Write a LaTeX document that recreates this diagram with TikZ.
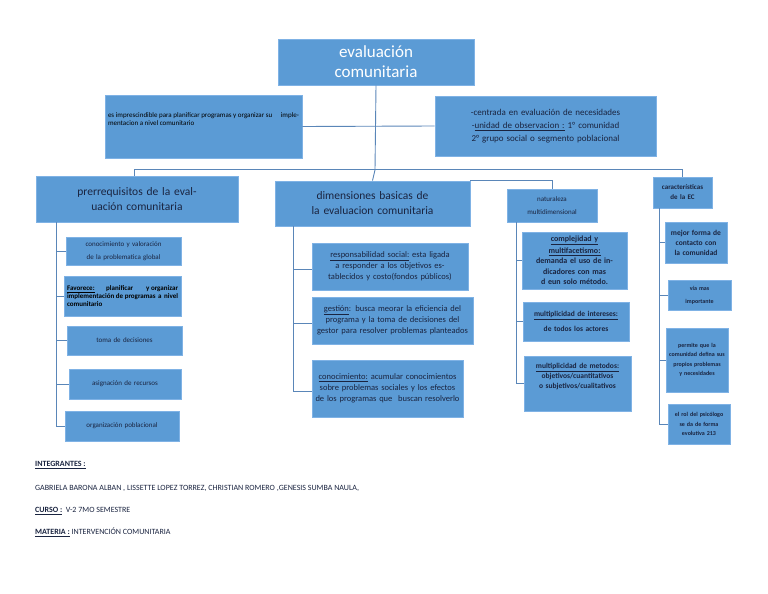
\documentclass[tikz,border=0pt]{standalone}
\usepackage{fontspec}
\setmainfont{Carlito}
\definecolor{bfill}{HTML}{5B9BD5}
\definecolor{bdraw}{HTML}{7FB2E5}
\definecolor{lcol}{HTML}{5A86B8}
\definecolor{tcol}{HTML}{1A2440}
\begin{document}
\begin{tikzpicture}[x=1pt,y=-1pt,
 bx/.style={fill=bfill,draw=bdraw,line width=0.8pt,inner sep=2pt,text=tcol,align=center},
 ln/.style={draw=lcol,line width=0.9pt}]
\useasboundingbox (0,0) rectangle (768,594);
\newcommand{\bxat}[7]{\node[bx,minimum width=#3-#1,minimum height=#4-#2,text width=#3-#1-6,font=\fontsize{#6}{#7}\selectfont] (#5) at ({(#1+#3)/2},{(#2+#4)/2})}
\bxat{278}{39}{474}{85}{title}{17}{20}[text=white]{evaluación\\comunitaria};
\bxat{105}{95}{302}{158}{ld}{7}{8}[align=justify,text=black]{es imprescindible para planificar programas y organizar su \quad implementacion a nivel comunitario\par\vspace{14pt}};
\bxat{435}{96}{656}{156}{rd}{9}{13}{-centrada en evaluación de necesidades\\-\underline{unidad de observacion :} 1° comunidad 2° grupo social o segmento poblacional};
\bxat{36}{176}{238}{222}{pre}{11.5}{15}{prerrequisitos de la evaluación comunitaria};
\bxat{275}{181}{470}{226}{dim}{11.5}{15}{dimensiones basicas de la evaluacion comunitaria};
\bxat{507}{189}{597}{222}{nat}{7}{13}{naturaleza\\multidimensional};
\bxat{653}{177}{712}{208}{car}{7}{10}{\textbf{características de la EC}};
% prereq children
\bxat{66}{237}{181}{265}{c1}{7}{13}{conocimiento y valoración\\de la problematica global};
\bxat{64}{276}{181}{316}{c2}{7}{8}[align=justify,text=black]{\textbf{\underline{Favorece:}\hfill planificar \hfill y organizar implementación de programas \hfill a \hfill nivel comunitario}};
\bxat{67}{326}{182}{355}{c3}{7}{9}{toma de decisiones};
\bxat{69}{369}{181}{399}{c4}{7}{9}{asignación de recursos};
\bxat{65}{411}{179}{441}{c5}{7}{9}{organización poblacional};
% dim children
\bxat{312}{243}{468}{290}{d1}{8.5}{11}{\underline{responsabilidad social:} esta ligada a responder a los objetivos establecidos y costo(fondos públicos)};
\bxat{312}{297}{473}{344}{d2}{8.5}{11}{\underline{gestión}: busca meorar la eficiencia del programa y la toma de decisiones del gestor para resolver problemas planteados};
\bxat{312}{360}{463}{417}{d3}{8.5}{11}{\underline{conocimiento:} acumular conocimientos sobre problemas sociales y los efectos de los programas que \ buscan resolverlo};
% nat children
\bxat{522}{232}{627}{289}{n1}{8}{10.5}{\textbf{\underline{complejidad y}}\\[1pt]\textbf{\underline{multifacetismo:}}\\\textbf{demanda el uso de indicadores con mas d eun solo método.}};
\bxat{523}{302}{629}{341}{n2}{7.5}{15}{\textbf{\underline{multiplicidad de intereses:}}\\\textbf{de todos los actores}};
\bxat{524}{356}{631}{411}{n3}{7.5}{10}{\textbf{\underline{multiplicidad de metodos:}}\\\textbf{objetivos/cuantitativos o subjetivos/cualitativos}\par\vspace{14pt}};
% car children
\bxat{665}{222}{727}{263}{k1}{7.5}{10}{\textbf{mejor forma de contacto con la comunidad}};
\bxat{668}{280}{731}{310}{k2}{6}{13}{\textbf{vía mas\\importante}};
\bxat{666}{328}{728}{392}{k3}{6}{9.5}{\textbf{permite que la comunidad defina sus propios problemas y necesidades}};
\bxat{668}{404}{730}{444}{k4}{6}{9.5}{\textbf{el rol del psicólogo se da de forma evolutiva 213}};
% connectors
\coordinate (hub) at (375,170);
\draw[ln] (title.south) -- (hub);
\draw[ln] (hub) -- (dim.north);
\draw[ln] ([xshift=-3pt]pre.north) -- ++(0,-6) -| (car.north);
\draw[ln] (dim.north east) -| (nat.north);
\draw[ln] (ld.east) -- (rd.west);
\coordinate (pv) at (56,222);
\foreach \c in {c1,c2,c3,c4,c5}{\draw[ln] (pv) |- (\c.west);}
\coordinate (dv) at (293,226);
\foreach \c in {d1,d2,d3}{\draw[ln] (dv) |- ([yshift=-3pt]\c.west);}
\coordinate (nv) at (516,222);
\foreach \c in {n1,n2,n3}{\draw[ln] (nv) |- (\c.west);}
\coordinate (kv) at (659,208);
\foreach \c in {k1,k2,k3,k4}{\draw[ln] (kv) |- (\c.west);}
% bottom text
\begin{scope}[every node/.style={anchor=west,inner sep=0pt,font=\fontsize{8}{10}\selectfont,text=tcol}]
\node (t1) at (35,465) {\textbf{\underline{INTEGRANTES :}}};
\node (t2) at (35,488) {GABRIELA BARONA ALBAN , LISSETTE LOPEZ TORREZ, CHRISTIAN ROMERO ,GENESIS SUMBA NAULA,};
\node (t3) at (35,511) {\textbf{\underline{CURSO :}}\ \ V-2 7MO SEMESTRE};
\node (t4) at (35,532) {\textbf{\underline{MATERIA :}} INTERVENCIÓN COMUNITARIA};
\end{scope}
\end{tikzpicture}
\end{document}
